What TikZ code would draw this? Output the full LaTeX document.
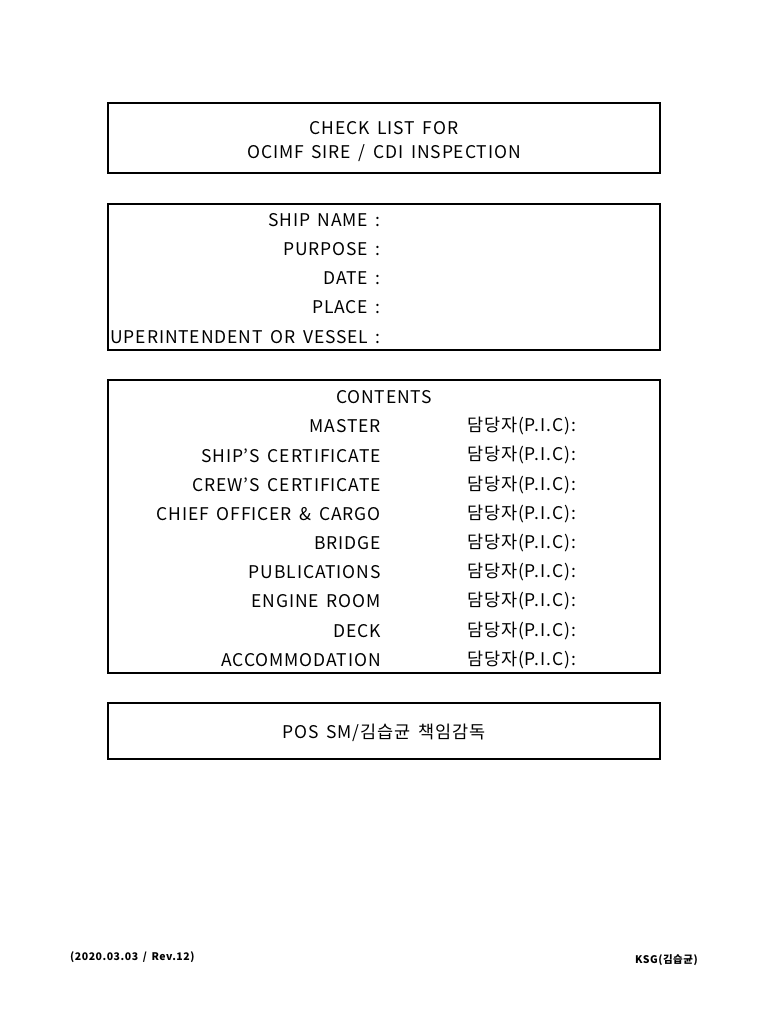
\documentclass[tikz,border=0pt]{standalone}
\usepackage{fontspec}
\setmainfont[LetterSpace=5,WordSpace=1.6]{Noto Sans CJK KR}
\begin{document}
\begin{tikzpicture}[x=1pt,y=-1pt,
  box/.style={draw,line width=1.3pt},
  txt/.style={inner sep=0pt,font=\fontsize{17.5}{20}\selectfont},
  lab/.style={txt,anchor=east},
  pic/.style={txt,anchor=west},
  foot/.style={inner sep=0pt,font=\fontsize{10.5}{12}\selectfont\bfseries}]
\useasboundingbox (0,0) rectangle (768,1024);
\draw[box] (108,103) rectangle (660,173);
\draw[line width=1.2pt] (108,173.5) -- (660,173.5);
\draw[box] (108,204) rectangle (660,350);
\draw[box] (108,380) rectangle (660,673);
\draw[box] (108,703) rectangle (660,759);
\node[txt] (t1) at (384,128) {CHECK LIST FOR};
\node[txt] (t2) at (384,153) {OCIMF SIRE / CDI INSPECTION};
\node[lab] (s1) at (381,220) {SHIP NAME :};
\node[lab] (s2) at (381,249) {PURPOSE :};
\node[lab] (s3) at (381,278) {DATE :};
\node[lab] (s4) at (381,307) {PLACE :};
\begin{scope}
\clip (108,320) rectangle (660,350);
\node[lab] (s5) at (381,337) {SUPERINTENDENT OR VESSEL :};
\end{scope}
\node[txt] (c0) at (384,397) {CONTENTS};
\foreach \t [count=\i] in {MASTER,SHIP'S CERTIFICATE,CREW'S CERTIFICATE,CHIEF OFFICER \& CARGO,BRIDGE,PUBLICATIONS,ENGINE ROOM,DECK,ACCOMMODATION}{
  \node[lab] (c\i) at (381,{397+29.2*\i}) {\t};
  \node[pic] (p\i) at (467,{397+29.2*\i}) {담당자(P.I.C):};
}
\node[txt] (pos) at (384,733) {POS SM/김습균 책임감독};
\node[foot,anchor=west] (f1) at (70,957) {(2020.03.03 / Rev.12)};
\node[foot,anchor=east] (f2) at (698,960) {KSG(김습균)};
\end{tikzpicture}
\end{document}
